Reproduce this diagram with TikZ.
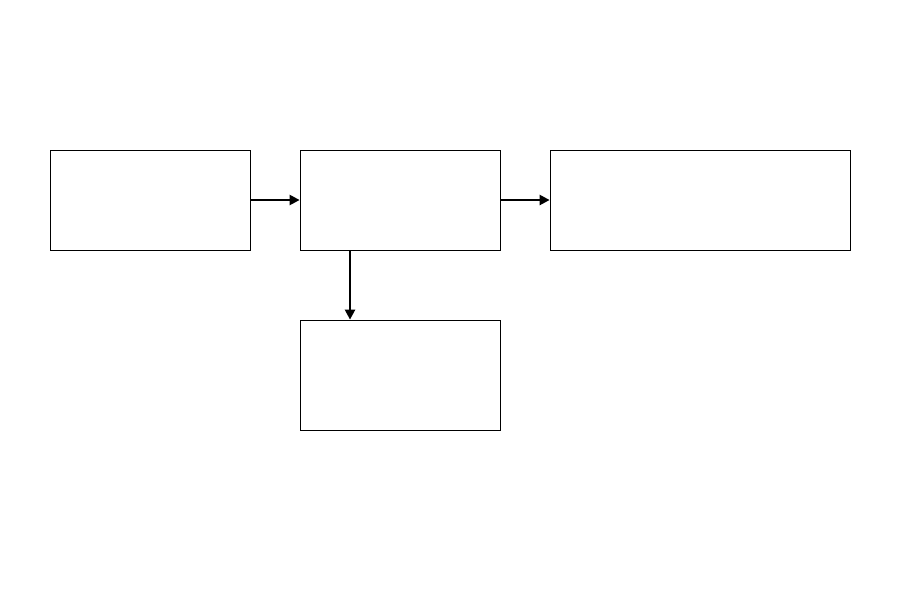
\documentclass[tikz,border=0pt]{standalone}
\usetikzlibrary{arrows.meta}
\begin{document}
\begin{tikzpicture}[x=0.02cm,y=-0.02cm,
  box/.style={draw=black,line width=0.45pt,rectangle,inner sep=0pt,fill=white},
  flow/.style={draw=black,line width=1.3pt,-{Triangle[length=0.2cm,width=0.2cm]}}]
\useasboundingbox (0,0) rectangle (900,600);
\node[box,minimum width=4cm,minimum height=2cm] (a) at (150,200) {};
\node[box,minimum width=4cm,minimum height=2cm] (b) at (400,200) {};
\node[box,minimum width=6cm,minimum height=2cm] (c) at (700,200) {};
\node[box,minimum width=4cm,minimum height=2.2cm] (d) at (400,375) {};
\draw[flow] (a.east) -- (b.west);
\draw[flow] (b.east) -- (c.west);
\draw[flow] ([xshift=-1cm]b.south) -- ([xshift=-1cm]d.north);
\end{tikzpicture}
\end{document}
